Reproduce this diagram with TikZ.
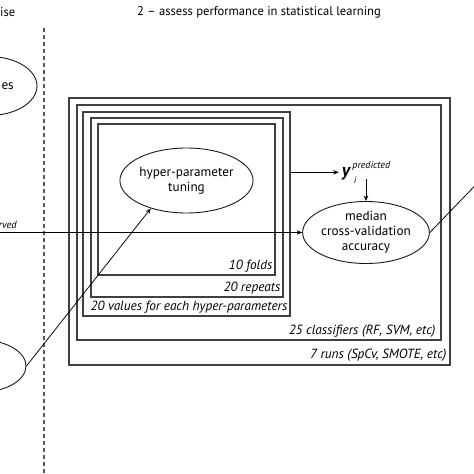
\documentclass[tikz,border=0pt]{standalone}
\usepackage{fontspec}
\setmainfont{PT Sans}
\usetikzlibrary{shapes.geometric,arrows.meta}
\begin{document}
\begin{tikzpicture}[x=1pt,y=-1pt,
  box/.style={draw=black!75, line width=1.1pt, inner sep=0pt, rectangle},
  ell/.style={draw=black!90, line width=0.9pt, ellipse, inner sep=0pt},
  lbl/.style={font=\fontsize{13.3}{15}\selectfont\itshape, inner sep=0pt, anchor=base east},
  txt/.style={font=\fontsize{13.2}{15}\selectfont, inner sep=0pt, align=center},
  conn/.style={line width=0.75pt, -{Stealth[length=5.5pt,width=4.5pt]}},
  plain/.style={line width=0.75pt},
  sep/.style={draw=black!65, line width=1.2pt, dash pattern=on 3.5pt off 3.5pt}]
\useasboundingbox (0,0) rectangle (474,474);
\clip (0,0) rectangle (474,474);
% header
\node[txt, anchor=west, font=\fontsize{12.6}{15}\selectfont] (hl) at (0,12) {ise};
\node[txt, font=\fontsize{12.6}{15}\selectfont] (title) at (259,12) {2 -- assess performance in statistical learning};
% separator
\coordinate (s1) at (44,28);
\coordinate (s2) at (44,474);
\draw[sep] (s1) -- (s2);
% nested boxes
\node[box, minimum width=381pt, minimum height=267pt] (b1) at (259.5,231.5) {};
\node[box, minimum width=364pt, minimum height=235pt] (b2) at (259,222.5) {};
\node[box, minimum width=207pt, minimum height=204pt] (b3) at (186.5,214) {};
\node[box, minimum width=192pt, minimum height=179pt] (b4) at (187,207.5) {};
\node[box, minimum width=177pt, minimum height=151pt] (b5) at (186.5,199.5) {};
\node[lbl] (l5) at ([xshift=-3pt,yshift=6pt]b5.south east) {10 folds};
\node[lbl] (l4) at ([xshift=-3pt,yshift=6pt]b4.south east) {20 repeats};
\node[lbl] (l3) at ([xshift=-3pt,yshift=6pt]b3.south east) {20 values for each hyper-parameters};
\node[lbl] (l2) at ([xshift=-6pt,yshift=6pt]b2.south east) {25 classifiers (RF, SVM, etc)};
\node[lbl] (l1) at ([xshift=-4pt,yshift=7pt]b1.south east) {7 runs (SpCv, SMOTE, etc)};
% left ellipses
\node[ell, minimum width=96pt, minimum height=59pt] (e1) at (-11,86) {};
\node[txt, anchor=east] (e1t) at (14,86) {es};
\node[ell, minimum width=90pt, minimum height=52pt] (e2) at (-19,366) {};
% main ellipses
\node[ell, minimum width=123pt, minimum height=65pt, txt] (hp) at (186.5,180.5) {hyper-parameter\\tuning};
\node[ell, minimum width=124pt, minimum height=62pt, txt] (med) at (366,232.5) {median\\cross-validation\\accuracy};
% y predicted
\node[inner sep=0pt, font=\fontsize{18}{18}\selectfont\bfseries\itshape, anchor=base] (yp) at (346,176) {y};
\node[inner sep=0pt, font=\fontsize{10}{10}\selectfont\itshape, anchor=base west] (ypsup) at ([xshift=2pt,yshift=8pt]yp.base east) {predicted};
\node[inner sep=0pt, font=\fontsize{9.5}{10}\selectfont\itshape, anchor=north west] (ypsub) at ([xshift=3.5pt,yshift=-0.5pt]yp.base east) {i};
% observed label
\node[inner sep=0pt, font=\fontsize{10.5}{11}\selectfont\itshape, anchor=base east] (obs) at (17,228) {rved};
% connectors
\coordinate (o0) at (0,232.5);
\draw[conn] (o0) -- (med.west);
\draw[conn] (e2.east) -- (hp.218);
\draw[conn] (b3.east |- yp.center) ++(0,-1) coordinate (a0) -- ([xshift=-3pt,yshift=1pt]yp.west);
\coordinate (yb) at (366,179);
\draw[conn] (yb) -- (yb |- med.north);
\coordinate (out) at (490,170);
\draw[plain] (med.east) -- (out);
\end{tikzpicture}
\end{document}
